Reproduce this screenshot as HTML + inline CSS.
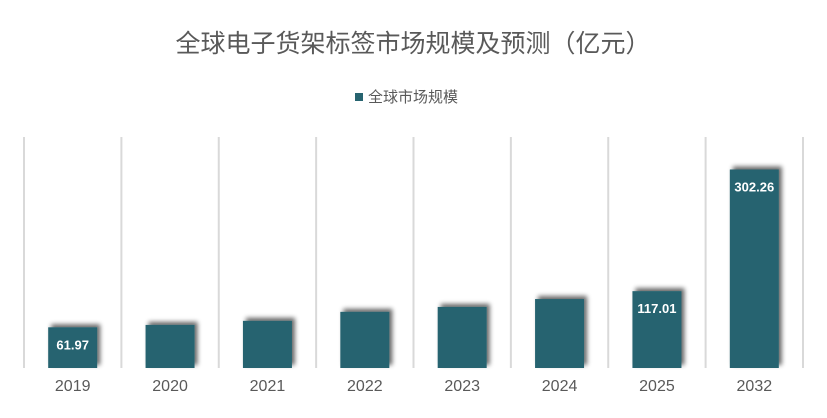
<!DOCTYPE html>
<html><head><meta charset="utf-8"><style>
body{margin:0;background:#fff;width:827px;height:413px;overflow:hidden;font-family:"Liberation Sans","Noto Sans CJK SC",sans-serif}
</style></head><body>
<svg width="827" height="413" xmlns="http://www.w3.org/2000/svg">
<defs><filter id="sh" x="-30%" y="-30%" width="160%" height="160%"><feGaussianBlur in="SourceAlpha" stdDeviation="2.5"/><feOffset dx="3" dy="-3"/><feComponentTransfer><feFuncA type="linear" slope="0.6"/></feComponentTransfer><feMerge><feMergeNode/><feMergeNode in="SourceGraphic"/></feMerge></filter></defs>
<text x="413" y="52" text-anchor="middle" font-size="25" fill="#595959">全球电子货架标签市场规模及预测（亿元）</text>
<g><rect x="355" y="93" width="8" height="8" fill="#276470"/><text x="368" y="102" font-size="15" fill="#595959">全球市场规模</text></g>
<g id="grid"></g><g id="bars"></g><g id="labels"></g>
</svg>
<script>
const categories=["2019","2020","2021","2022","2023","2024","2025","2032"];
const values=[61.97,65.6,71.8,85.5,93,105,117.01,302.26];
const printedLabels=["61.97","","","","","","117.01","302.26"];
const left=24,right=803,base=368,top0=137,scale=198.5/302.26;
const bw=(right-left)/categories.length;
const x=i=>left+bw*i, y=v=>base-v*scale;
const ns="http://www.w3.org/2000/svg";
const g=document.getElementById('grid'),b=document.getElementById('bars'),l=document.getElementById('labels');
function mk(t,a,p){const e=document.createElementNS(ns,t);for(const k in a)e.setAttribute(k,a[k]);p.appendChild(e);return e;}
for(let i=0;i<=categories.length;i++){const e=mk('line',{x1:x(i),x2:x(i),y1:top0,y2:base,stroke:'#d9d9d9','stroke-width':2},g);

}
categories.forEach((c,i)=>{const cx=x(i)+bw/2;
const r=mk('rect',{x:cx-24.5,y:y(values[i]),width:49,height:values[i]*scale,fill:'#276470',filter:'url(#sh)'},b);


const t=mk('text',{x:cx,y:391,'text-anchor':'middle','font-size':16,fill:'#595959'},l);t.textContent=c;


if(printedLabels[i]){const v=mk('text',{x:cx,y:y(values[i])+22,'text-anchor':'middle','font-size':13,'font-weight':'bold',fill:'#fff'},l);v.textContent=printedLabels[i];

}
});
</script>
</body></html>
